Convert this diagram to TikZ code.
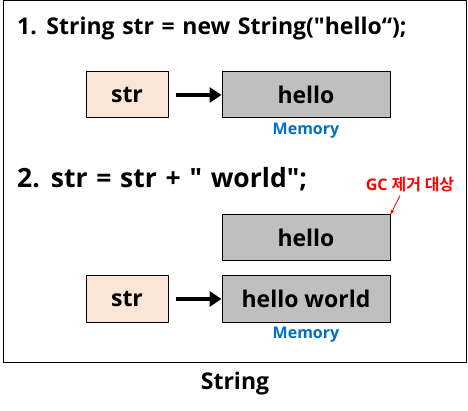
\documentclass[tikz,border=0pt]{standalone}
\usepackage{fontspec}
\setmainfont{Open Sans}[Ligatures=TeXOff]
\newfontfamily\krfont{Noto Sans CJK KR}[BoldFont={Noto Sans CJK KR Bold}]
\usetikzlibrary{arrows.meta}
\definecolor{peach}{HTML}{FBE5D6}
\definecolor{memgray}{HTML}{BFBFBF}
\definecolor{memblue}{HTML}{0070C0}
\newcommand\codefont[1]{\fontsize{#1}{#1}\selectfont\bfseries\spaceskip=.33em\relax}
\begin{document}
\begin{tikzpicture}[x=1pt,y=-1pt,line join=round,
    code/.style={anchor=base west,inner sep=0pt,font=\codefont{#1}},
    var/.style={draw,line width=1pt,fill=peach,minimum width=82pt,minimum height=46pt,inner sep=0pt,font=\fontsize{23}{23}\selectfont\bfseries},
    obj/.style={draw,line width=1pt,fill=memgray,minimum width=168pt,minimum height=46pt,inner sep=0pt,font=\fontsize{23}{23}\selectfont\bfseries},
    refarrow/.style={-{Triangle[length=12pt,width=15pt]},line width=4pt,shorten <=7pt},
    memlabel/.style={anchor=base,inner sep=0pt,text=memblue,font=\fontsize{16}{16}\selectfont\bfseries}]
    \useasboundingbox (0,0) rectangle (468,411);
    \draw[line width=1pt] (3,1) rectangle (466,362);
    % 1. new String
    \node[code=23] (line1) at (17,35) {1. String str = new String("hello“);};
    \node[var] (str1) at (127,95) {str};
    \node[obj] (hello1) at (306,95) {hello};
    \node[memlabel] (mem1) at (306,135) {Memory};
    \draw[refarrow] (str1) -- (hello1);
    % 2. concat
    \node[code=26.5] (line2) at (17,188) {2. str = str + " world";};
    \node[obj] (hello2) at (306,238) {hello};
    \node[obj] (helloworld) at (306,299) {hello world};
    \node[var] (str2) at (127,299) {str};
    \node[memlabel] (mem2) at (306,338) {Memory};
    \draw[refarrow] (str2) -- (helloworld);
    \node[anchor=base,inner sep=0pt,text=red,font=\fontsize{16}{16}\selectfont\bfseries] (gc) at (410,191) {GC {\krfont 제거 대상}};
    \draw[red,line width=.8pt,-{Stealth[length=5pt]}] ([xshift=-10pt,yshift=-3pt]gc.south) -- (hello2.north east);
    \node[anchor=base,inner sep=0pt,font=\fontsize{23}{23}\selectfont\bfseries] (caption) at (235,389) {String};
\end{tikzpicture}
\end{document}
